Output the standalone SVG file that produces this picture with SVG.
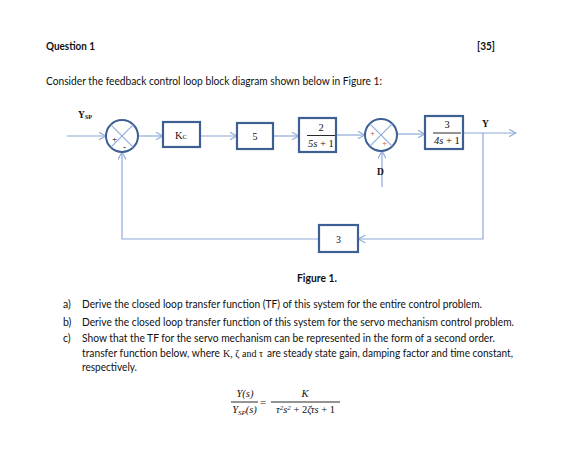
<svg xmlns="http://www.w3.org/2000/svg" width="583" height="455" viewBox="0 0 583 455">
<style>
.body{font-family:Lato,"Open Sans","Liberation Sans",sans-serif;font-size:10.5px;fill:#111}
.bold{font-weight:bold}
.blk{fill:#fff;stroke:#3d5f93;stroke-width:2.2}
.sum{fill:#fff;stroke:#3d5f93;stroke-width:2}
.x{stroke:#8caad8;stroke-width:1.1}
.ln{fill:none;stroke:#8caad8;stroke-width:1.2}
.ser{font-family:"Liberation Serif","Times New Roman",serif;fill:#111}
.sign{font-family:"Liberation Serif",serif;font-size:9px}
.math{font-family:"Liberation Serif",serif;font-style:italic;font-size:10.5px;fill:#111}
.bar{stroke:#111;stroke-width:0.9}
</style>
<defs>
<marker id="arr" viewBox="0 0 8 8" refX="7.5" refY="4" markerWidth="8" markerHeight="8" markerUnits="userSpaceOnUse" orient="auto">
<path d="M0,0 L7.5,4 L0,8" fill="none" stroke="#8caad8" stroke-width="1.1"/>
</marker>
</defs>
<rect width="583" height="455" fill="#fff"/>

<g id="header">
<text class="body bold" x="46" y="50" textLength="49" lengthAdjust="spacingAndGlyphs">Question 1</text>
<text class="body bold" x="477" y="50" textLength="18" lengthAdjust="spacingAndGlyphs">[35]</text>
<text class="body" x="46" y="85" textLength="336" lengthAdjust="spacingAndGlyphs">Consider the feedback control loop block diagram shown below in Figure 1:</text>
</g>

<g id="connectors">
<path class="ln" d="M67,136 H106" marker-end="url(#arr)"/>
<path class="ln" d="M138,136 H163" marker-end="url(#arr)"/>
<path class="ln" d="M200,136 H237" marker-end="url(#arr)"/>
<path class="ln" d="M273,136 H299" marker-end="url(#arr)"/>
<path class="ln" d="M336,135 H365" marker-end="url(#arr)"/>
<path class="ln" d="M397,134 H425" marker-end="url(#arr)"/>
<path class="ln" d="M463,133 H516" marker-end="url(#arr)"/>
<path class="ln" d="M483,133 V239 H358" marker-end="url(#arr)"/>
<path class="ln" d="M319,239 H122 V152" marker-end="url(#arr)"/>
<path class="ln" d="M382,187 V151" marker-end="url(#arr)"/>
</g>

<g id="sum1">
<circle class="sum" cx="122" cy="136" r="16"/>
<line class="x" x1="110.7" y1="124.7" x2="133.3" y2="147.3"/>
<line class="x" x1="133.3" y1="124.7" x2="110.7" y2="147.3"/>
<text class="sign" x="112" y="142">+</text>
<text class="sign" x="123" y="150">-</text>
</g>
<text class="ser" x="78" y="118" font-size="9.5" font-weight="bold" fill="#333">Y<tspan font-size="6" dy="1">SP</tspan></text>

<g id="kc">
<rect class="blk" x="163" y="122" width="37" height="25"/>
<text class="ser" x="175" y="139" font-size="10.5">K<tspan font-size="7">C</tspan></text>
</g>

<g id="five">
<rect class="blk" x="237" y="123" width="36" height="26"/>
<text class="ser" x="255" y="140" font-size="10" text-anchor="middle">5</text>
</g>

<g id="g1">
<rect class="blk" x="299" y="118" width="37" height="34"/>
<text class="ser" x="321" y="131" font-size="10.5" text-anchor="middle">2</text>
<line class="bar" x1="307" y1="135.5" x2="335" y2="135.5"/>
<text class="ser" x="321" y="146.5" font-size="10.5" text-anchor="middle"><tspan font-style="italic">5s</tspan> + 1</text>
</g>

<g id="sum2">
<circle class="sum" cx="381" cy="135" r="16"/>
<line class="x" x1="369.7" y1="123.7" x2="392.3" y2="146.3"/>
<line class="x" x1="392.3" y1="123.7" x2="369.7" y2="146.3"/>
<text class="sign" x="370" y="136" fill="#b5652a">+</text>
<text class="sign" x="382" y="146" fill="#b5652a">+</text>
</g>
<text class="ser" x="377" y="175" font-size="9.5" font-weight="bold" fill="#333">D</text>

<g id="g2">
<rect class="blk" x="425" y="116" width="38" height="33"/>
<text class="ser" x="447" y="128" font-size="10.5" text-anchor="middle">3</text>
<line class="bar" x1="433" y1="133" x2="461" y2="133"/>
<text class="ser" x="447" y="143.5" font-size="10.5" text-anchor="middle"><tspan font-style="italic">4s</tspan> + 1</text>
</g>
<text class="ser" x="482" y="127" font-size="9.5" font-weight="bold" fill="#333">Y</text>

<g id="h">
<rect class="blk" x="319" y="225" width="39" height="27"/>
<text class="ser" x="338.5" y="243" font-size="10" text-anchor="middle">3</text>
</g>

<g id="questions">
<text class="body bold" x="297" y="282" textLength="40" lengthAdjust="spacingAndGlyphs">Figure 1.</text>
<text class="body" x="63" y="308">a)</text>
<text class="body" x="82" y="308" textLength="400" lengthAdjust="spacingAndGlyphs">Derive the closed loop transfer function (TF) of this system for the entire control problem.</text>
<text class="body" x="63" y="326">b)</text>
<text class="body" x="82" y="326" textLength="432" lengthAdjust="spacingAndGlyphs">Derive the closed loop transfer function of this system for the servo mechanism control problem.</text>
<text class="body" x="63" y="341.5">c)</text>
<text class="body" x="82" y="341.5" textLength="413" lengthAdjust="spacingAndGlyphs">Show that the TF for the servo mechanism can be represented in the form of a second order.</text>
<text class="body" x="82" y="356.5" textLength="138" lengthAdjust="spacingAndGlyphs">transfer function below, where</text>
<text class="ser" x="223" y="356.5" font-size="10" textLength="40" lengthAdjust="spacingAndGlyphs">K, ζ and τ</text>
<text class="body" x="267" y="356.5" textLength="246" lengthAdjust="spacingAndGlyphs">are steady state gain, damping factor and time constant,</text>
<text class="body" x="82" y="371" textLength="55" lengthAdjust="spacingAndGlyphs">respectively.</text>
</g>

<g id="formula">
<text class="math" x="245" y="397" text-anchor="middle">Y(s)</text>
<line class="bar" x1="231" y1="402" x2="258" y2="402"/>
<text class="math" x="244.5" y="413" text-anchor="middle">Y<tspan font-size="7" dy="1.5">SP</tspan><tspan dy="-1.5">(s)</tspan></text>
<text class="ser" x="260" y="406" font-size="11">=</text>
<text class="math" x="305" y="397" text-anchor="middle">K</text>
<line class="bar" x1="271" y1="402" x2="340" y2="402"/>
<text class="math" x="305.5" y="413" text-anchor="middle">τ<tspan font-size="7" dy="-3">2</tspan><tspan dy="3">s</tspan><tspan font-size="7" dy="-3">2</tspan><tspan dy="3" font-style="normal"> + 2</tspan>ζτs<tspan font-style="normal"> + 1</tspan></text>
</g>
</svg>
